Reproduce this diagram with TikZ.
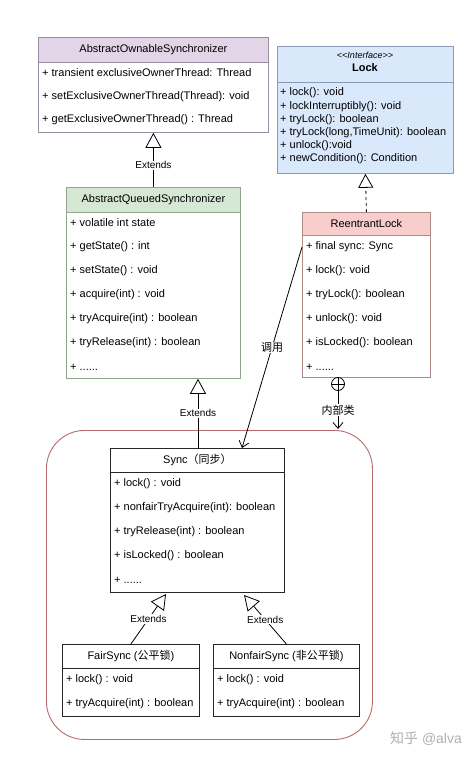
\documentclass[tikz,border=0pt]{standalone}
\usepackage{fontspec}
\setmainfont{Liberation Sans}
\newfontfamily\cjk{Noto Sans CJK SC}
\usetikzlibrary{arrows.meta,calc}
\definecolor{purplefill}{HTML}{E1D5E7}
\definecolor{purpleline}{HTML}{9A8FA0}
\definecolor{greenfill}{HTML}{D5E8D4}
\definecolor{greenline}{HTML}{8FA68D}
\definecolor{bluefill}{HTML}{DAE8FC}
\definecolor{blueline}{HTML}{8A9AB5}
\definecolor{redfill}{HTML}{F8CECC}
\definecolor{redline}{HTML}{B08A88}
\definecolor{grpline}{HTML}{B86B6B}
\definecolor{wmgray}{HTML}{B0B0B0}
\begin{document}
\begin{tikzpicture}[x=1pt,y=-1pt,
  box/.style={draw, line width=0.8pt, inner sep=0, anchor=north west},
  row/.style={anchor=west, inner sep=0, font=\fontsize{11}{13}\selectfont},
  title/.style={font=\fontsize{11}{13}\selectfont},
  lbl/.style={fill=white, inner sep=1pt, font=\fontsize{10}{12}\selectfont},
  ext/.style={line width=0.8pt, -{Triangle[open,length=15pt,width=16pt]}},
  impl/.style={line width=0.8pt, dash pattern=on 3pt off 3pt, -{Triangle[open,length=14pt,width=15pt]}},
  vhead/.style={line width=0.8pt, -{Straight Barb[length=6pt,width=10pt]}}
]
\useasboundingbox (0,0) rectangle (474,760);
\fill[white] (0,0) rectangle (474,760);

% ---------- AbstractOwnableSynchronizer ----------
\node[box, draw=purpleline, fill=purplefill, minimum width=230pt, minimum height=25pt, title] (aosh) at (38,37) {AbstractOwnableSynchronizer};
\node[box, draw=purpleline, fill=white, minimum width=230pt, minimum height=70pt] (aos) at (38,62) {};
\node[row] (aos1) at (42,73) {+ transient exclusiveOwnerThread: Thread};
\node[row] (aos2) at (42,97) {+ setExclusiveOwnerThread(Thread): void};
\node[row] (aos3) at (42,120) {+ getExclusiveOwnerThread() : Thread};

% ---------- Lock ----------
\node[box, draw=blueline, fill=bluefill, minimum width=176pt, minimum height=36pt] (lockh) at (277,46) {};
\node[box, draw=blueline, fill=bluefill, minimum width=176pt, minimum height=91pt] (lock) at (277,82) {};
\node[font=\fontsize{9}{10}\selectfont\itshape] (lockst) at (365,55) {{<}{<}Interface{>}{>}};
\node[title, font=\fontsize{11}{13}\selectfont\bfseries] (lockn) at (365,68) {Lock};
\node[row] (lk1) at (280,93) {+ lock(): void};
\node[row] (lk2) at (280,106.2) {+ lockInterruptibly(): void};
\node[row] (lk3) at (280,119.4) {+ tryLock(): boolean};
\node[row] (lk4) at (280,132.6) {+ tryLock(long,TimeUnit): boolean};
\node[row] (lk5) at (280,145.8) {+ unlock():void};
\node[row] (lk6) at (280,159) {+ newCondition(): Condition};

% ---------- AbstractQueuedSynchronizer ----------
\node[box, draw=greenline, fill=greenfill, minimum width=174pt, minimum height=25pt, title] (aqsh) at (66,187) {AbstractQueuedSynchronizer};
\node[box, draw=greenline, fill=white, minimum width=174pt, minimum height=166pt] (aqs) at (66,212) {};
\node[row] (aq1) at (70,223) {+ volatile int state};
\node[row] (aq2) at (70,247) {+ getState() : int};
\node[row] (aq3) at (70,271) {+ setState() : void};
\node[row] (aq4) at (70,295) {+ acquire(int) : void};
\node[row] (aq5) at (70,319) {+ tryAcquire(int) : boolean};
\node[row] (aq6) at (70,343) {+ tryRelease(int) : boolean};
\node[row] (aq7) at (70,367) {+ ......};

% ---------- ReentrantLock ----------
\node[box, draw=redline, fill=redfill, minimum width=128pt, minimum height=23pt, title] (rlh) at (302,212) {ReentrantLock};
\node[box, draw=redline, fill=white, minimum width=128pt, minimum height=142pt] (rl) at (302,235) {};
\node[row] (rl1) at (306,247) {+ final sync: Sync};
\node[row] (rl2) at (306,271) {+ lock(): void};
\node[row] (rl3) at (306,295) {+ tryLock(): boolean};
\node[row] (rl4) at (306,319) {+ unlock(): void};
\node[row] (rl5) at (306,343) {+ isLocked(): boolean};
\node[row] (rl6) at (306,367) {+ ......};

% ---------- group frame ----------
\node[box, draw=grpline, line width=0.9pt, rounded corners=38pt, minimum width=326pt, minimum height=309pt] (grp) at (46,430) {};

% ---------- Sync ----------
\node[box, draw=black!85, fill=white, minimum width=174pt, minimum height=24pt, title] (synch) at (110,448) {Sync{\cjk （同步）}};
\node[box, draw=black!85, fill=white, minimum width=174pt, minimum height=120pt] (sync) at (110,472) {};
\node[row] (sy1) at (114,484) {+ lock() : void};
\node[row] (sy2) at (114,508) {+ nonfairTryAcquire(int): boolean};
\node[row] (sy3) at (114,532) {+ tryRelease(int) : boolean};
\node[row] (sy4) at (114,556) {+ isLocked() : boolean};
\node[row] (sy5) at (114,580) {+ ......};

% ---------- FairSync ----------
\node[box, draw=black!85, fill=white, minimum width=137pt, minimum height=24pt, title] (fairh) at (62,644) {FairSync ({\cjk 公平锁})};
\node[box, draw=black!85, fill=white, minimum width=137pt, minimum height=48pt] (fair) at (62,668) {};
\node[row] (fs1) at (66,680) {+ lock() : void};
\node[row] (fs2) at (66,704) {+ tryAcquire(int) : boolean};

% ---------- NonfairSync ----------
\node[box, draw=black!85, fill=white, minimum width=146pt, minimum height=24pt, title] (nfh) at (213,644) {NonfairSync ({\cjk 非公平锁})};
\node[box, draw=black!85, fill=white, minimum width=146pt, minimum height=48pt] (nf) at (213,668) {};
\node[row] (nf1) at (217,680) {+ lock() : void};
\node[row] (nf2) at (217,704) {+ tryAcquire(int) : boolean};

% ---------- connectors ----------
\draw[ext] (aqsh.north) -- (aos.south) node[lbl, pos=0.4] {Extends};
\draw[impl] (rlh.north) -- (lock.south);
\coordinate (sx) at (198,448);
\draw[ext] (sx) -- (sx |- aqs.south) node[lbl, pos=0.5] {Extends};
\coordinate (callend) at (242,448);
\draw[vhead] (rl1 -| rl.west) -- (callend) node[lbl, pos=0.5, font=\fontsize{11}{13}\selectfont\cjk] {调用};
\node[circle, draw, line width=0.8pt, fill=white, minimum size=13pt, inner sep=0] (cp) at (338,384) {};
\draw[line width=0.8pt] (cp.north) -- (cp.south) (cp.west) -- (cp.east);
\coordinate (inend) at (338,429);
\draw[vhead] (cp.south) -- (inend) node[lbl, pos=0.5, font=\fontsize{11}{13}\selectfont\cjk] {内部类};
\coordinate (ft) at (166,594);
\draw[ext] (fairh.north) -- (ft) node[lbl, pos=0.5] {Extends};
\coordinate (nt) at (244,595);
\draw[ext] (nfh.north) -- (nt) node[lbl, pos=0.5] {Extends};

% ---------- watermark ----------
\node[text=wmgray, font=\fontsize{14}{16}\selectfont] (wm) at (426,739) {{\cjk 知乎} @alva};
\end{tikzpicture}
\end{document}
